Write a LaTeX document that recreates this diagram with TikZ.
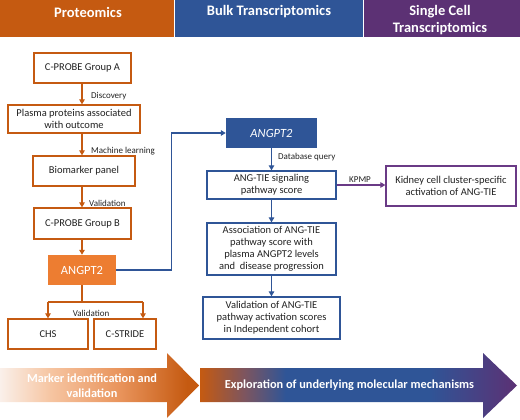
\documentclass[tikz,border=0pt]{standalone}
\usepackage{fontspec}
\setmainfont{Carlito}
\usetikzlibrary{arrows.meta}
\definecolor{OrgD}{RGB}{197,90,17}
\definecolor{OrgL}{RGB}{237,125,49}
\definecolor{BluD}{RGB}{47,85,151}
\definecolor{PurD}{RGB}{92,49,116}
\definecolor{PurB}{RGB}{106,58,134}
\definecolor{TxtC}{RGB}{34,34,34}
\definecolor{Wh1}{RGB}{250,240,234}
\definecolor{Pch1}{RGB}{246,196,160}
\definecolor{Pch2}{RGB}{233,148,92}
\definecolor{Brn1}{RGB}{125,85,95}
\pgfdeclarehorizontalshading{leftarr}{100bp}{color(0bp)=(Wh1); color(25bp)=(Wh1); color(38bp)=(Pch1); color(55bp)=(Pch2); color(72bp)=(OrgD); color(100bp)=(OrgD)}
\pgfdeclarehorizontalshading{rightarr}{100bp}{color(0bp)=(OrgD); color(25bp)=(OrgD); color(32bp)=(Brn1); color(38.5bp)=(BluD); color(61bp)=(BluD); color(75bp)=(PurD); color(100bp)=(PurD)}
\tikzset{
  obox/.style={draw=OrgD, line width=1.3pt, fill=white, text=TxtC, align=center, font=\fontsize{10.5}{12}\selectfont, inner sep=1pt},
  bbox/.style={draw=BluD, line width=1.3pt, fill=white, text=TxtC, align=center, font=\fontsize{10.5}{12}\selectfont, inner sep=1pt},
  pbox/.style={draw=PurB, line width=1.3pt, fill=white, text=TxtC, align=center, font=\fontsize{10.5}{12}\selectfont, inner sep=1pt},
  oarr/.style={draw=OrgD, line width=1.2pt, -{Triangle[length=5pt,width=5.5pt]}},
  barr/.style={draw=BluD, line width=1.2pt, -{Triangle[length=5pt,width=5.5pt]}},
  parr/.style={draw=PurB, line width=1.2pt, -{Triangle[length=5pt,width=5.5pt]}},
  lab/.style={text=TxtC, font=\fontsize{9}{10}\selectfont, inner sep=0pt},
  head/.style={text=white, font=\fontsize{14.5}{17}\selectfont\bfseries, align=center, inner sep=0pt},
  arrtxt/.style={text=white, font=\fontsize{12.3}{15}\selectfont\bfseries, align=center, inner sep=0pt}
}
\begin{document}
\begin{tikzpicture}[x=1pt,y=-1pt]
\useasboundingbox (0,0) rectangle (520,420);
% headers
\fill[OrgD] (0,0) rectangle (174,37);
\fill[BluD] (175,0) rectangle (363,37);
\fill[PurD] (364,0) rectangle (520,37);
\node[head] (h1) at (88,12) {Proteomics};
\node[head] (h2) at (269,12) {Bulk Transcriptomics};
\node[head] (h3) at (440,20.5) {Single Cell\\Transcriptomics};
% proteomics column
\node[obox, minimum width=97pt, minimum height=30pt] (gA) at (82.5,68) {C-PROBE Group A};
\node[obox, minimum width=132pt, minimum height=28pt] (plasma) at (74,119) {Plasma proteins associated\\with outcome};
\node[obox, minimum width=102pt, minimum height=30pt] (panel) at (84,171) {Biomarker panel};
\node[obox, minimum width=97pt, minimum height=31pt] (gB) at (82.5,223.5) {C-PROBE Group B};
\node[fill=OrgL, text=white, minimum width=68pt, minimum height=30pt, font=\fontsize{12.5}{14}\selectfont, inner sep=1pt] (ang) at (82,270) {ANGPT2};
\node[obox, minimum width=80pt, minimum height=30pt] (chs) at (48,334) {CHS};
\node[obox, minimum width=62pt, minimum height=30pt] (cst) at (125,334) {C-STRIDE};
\coordinate (c1) at (82,0);
\draw[oarr] (gA.south -| c1) -- (plasma.north -| c1);
\draw[oarr] (plasma.south -| c1) -- (panel.north -| c1);
\draw[oarr] (panel.south -| c1) -- (gB.north -| c1);
\draw[oarr] (gB.south -| c1) -- (ang.north -| c1);
\node[lab, anchor=west] (l1) at (91,96) {Discovery};
\node[lab, anchor=west] (l2) at (91,151) {Machine learning};
\node[lab, anchor=west] (l3) at (89,203) {Validation};
\coordinate (sp) at (82,302);
\coordinate (spL) at (48,302);
\coordinate (spR) at (143,302);
\draw[OrgD, line width=1.2pt] (ang.south) -- (sp);
\draw[OrgD, line width=1.2pt] (spL) -- (spR);
\draw[oarr] (spL) -- (chs.north);
\draw[oarr] (spR) -- (spR |- cst.north);
\node[lab] (l4) at (91,313) {Validation};
% bulk column
\node[fill=BluD, text=white, minimum width=91pt, minimum height=30pt, font=\fontsize{12.5}{14}\selectfont\itshape, inner sep=1pt] (bang) at (271.5,133) {ANGPT2};
\draw[barr] (ang.east) -- ++(55,0) |- (bang.west);
\node[bbox, minimum width=129pt, minimum height=28pt] (sig) at (271.5,185) {ANG-TIE signaling\\pathway score};
\draw[barr] (bang.south) -- (sig.north);
\node[lab, anchor=west] (l5) at (278,157) {Database query};
\node[pbox, minimum width=130pt, minimum height=40pt] (kid) at (451,186) {Kidney cell cluster-specific\\activation of ANG-TIE};
\draw[parr] (sig.east) -- (sig.east -| kid.west);
\node[lab] (l6) at (360,179.5) {KPMP};
\node[bbox, minimum width=129pt, minimum height=52pt] (assoc) at (271.5,249) {Association of ANG-TIE\\pathway score with\\plasma ANGPT2 levels\\and\ \ disease progression};
\draw[barr] (sig.south) -- (assoc.north);
\node[bbox, minimum width=137pt, minimum height=42pt] (valid) at (271.5,318) {Validation of ANG-TIE\\pathway activation scores\\in Independent cohort};
\draw[barr] (assoc.south) -- (valid.north);
% bottom arrows
\shade[shading=leftarr] (0,368) -- (167,368) -- (167,353) -- (199,385.5) -- (167,418) -- (167,402) -- (0,402) -- cycle;
\shade[shading=rightarr] (200,368) -- (483,368) -- (483,353) -- (517,385.5) -- (483,418) -- (483,402) -- (200,402) -- cycle;
\node[arrtxt] (t1) at (92,385.5) {Marker identification and\\validation};
\node[arrtxt] (t2) at (349.5,385.5) {Exploration of underlying molecular mechanisms};
\end{tikzpicture}
\end{document}
